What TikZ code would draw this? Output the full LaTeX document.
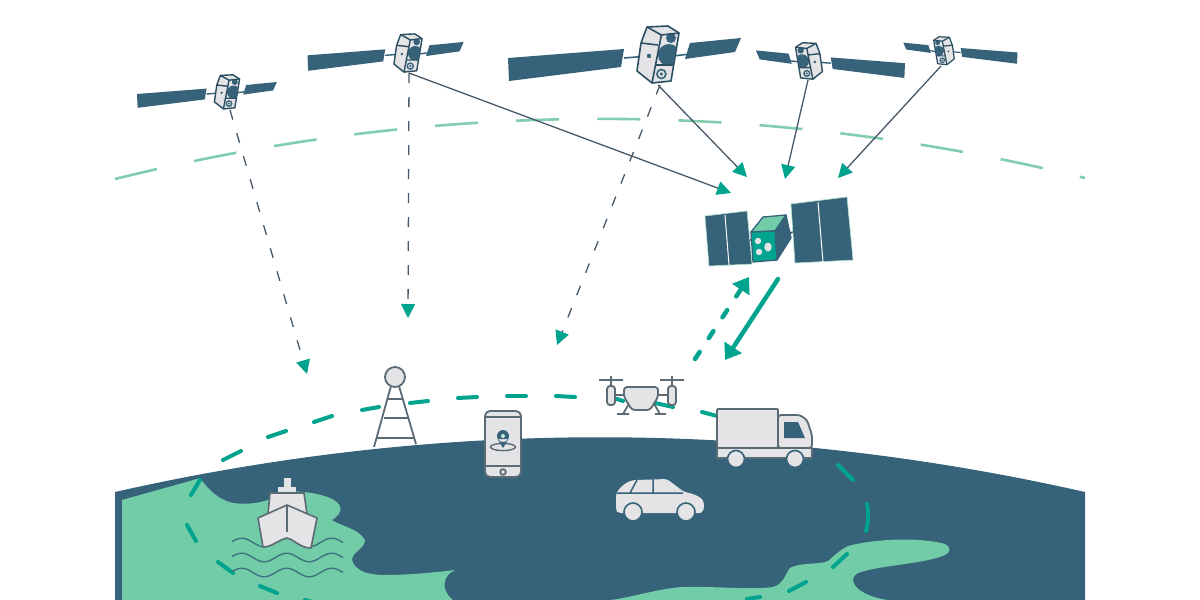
\documentclass[tikz,border=0pt]{standalone}
\usetikzlibrary{arrows.meta}
\definecolor{ocean}{HTML}{36627A}
\definecolor{land}{HTML}{72CCA8}
\definecolor{signal}{HTML}{00A48E}
\definecolor{shell}{HTML}{E4E4E6}
\definecolor{outline}{HTML}{5B6B75}
\definecolor{beam}{HTML}{46596A}
\definecolor{orbitline}{HTML}{82CDB0}
\tikzset{
  x=1pt,y=-1pt,
  beamtip/.style={-{Triangle[length=14pt,width=14pt,color=signal,fill=signal]}},
  beamsolid/.style={draw=beam,line width=1.3pt,beamtip},
  beamdash/.style={beamsolid,dash pattern=on 10pt off 14pt},
  linkline/.style={draw=signal,line width=4.5pt,line cap=round,
    -{Triangle[length=15pt,width=20pt,color=signal,fill=signal]}},
  ringdash/.style={draw=signal,line width=4pt,line cap=round},
  icon/.style={draw=outline,fill=shell,line width=1.8pt,line join=round},
  iconline/.style={draw=outline,line width=1.8pt},
  seaicon/.style={draw=ocean,fill=shell,line width=1.6pt},
  wave/.style={draw=ocean!85!land,line width=1.4pt},
  pics/navsat/.style={code={
    % solar wings and their struts
    \draw[ocean,line width=#1] (-34,5) -- (-9,3) (15,3) -- (32,1);
    \fill[ocean] (-150,5) -- (-34,-4) -- (-37,14) -- (-149,28) -- cycle;
    \fill[ocean] (32,-10) -- (83,-15) -- (77,-1) -- (27,6) -- cycle;
    % spacecraft body
    \filldraw[fill=shell,draw=ocean!80!black,line width=#1,line join=round]
      (-11,-26) -- (10,-27) -- (21,-20) -- (13,28) -- (-6,30) -- (-21,18) -- (-17,-10) -- cycle;
    \begin{scope}
      \clip (3.4,-18) -- (21,-20) -- (15,12) -- (-2.5,12) -- cycle;
      \fill[ocean] (11,2) circle (11);
    \end{scope}
    \fill[ocean] (13,-15) circle (5);
    \fill[ocean] (-9,3) circle (2.2);
    \draw[ocean!80!black,line width=#1,line join=round]
      (-11,-26) -- (3.4,-18) -- (21,-20)
      (3.4,-18) -- (-2.5,12) -- (-6,30)
      (-2.5,12) -- (15,12)
      (-17,-10) -- (0,-8);
    \draw[ocean,line width=#1] (3.4,21) circle (4.5);
    \fill[ocean] (3.4,21) circle (1.8);
  }}
}
\begin{document}
\begin{tikzpicture}
\useasboundingbox (0,0) rectangle (1200,600);
\fill[white] (0,0) rectangle (1200,600);

% dashed orbit of the navigation constellation
\draw[orbitline,line width=2.6pt,dash pattern=on 43pt off 38.2pt]
  (115,179) .. controls (438,99) and (762,99) .. (1085,178);

% planet, ocean and land masses
\begin{scope}
  \clip (115,400) rectangle (1085,600);
  \fill[ocean] (115,492) .. controls (438,419) and (762,419) .. (1085,492)
    -- (1085,600) -- (115,600) -- cycle;
  \fill[land] (122,500) .. controls (150,492) and (180,484) .. (200,478)
    .. controls (207,488) and (218,500) .. (233,503)
    .. controls (250,505) and (268,503) .. (280,493)
    .. controls (295,490) and (315,492) .. (330,498)
    .. controls (342,503) and (345,512) .. (332,520)
    .. controls (340,526) and (358,528) .. (365,540)
    .. controls (365,550) and (348,553) .. (353,563)
    .. controls (358,572) and (370,575) .. (385,575)
    .. controls (410,575) and (438,572) .. (455,570)
    .. controls (443,575) and (440,590) .. (453,600)
    -- (122,600) -- cycle;
  \fill[land] (610,600) .. controls (630,598) and (660,588) .. (683,587)
    .. controls (710,586) and (750,590) .. (773,587)
    .. controls (784,584) and (785,574) .. (790,568)
    .. controls (800,562) and (820,565) .. (828,561)
    .. controls (835,555) and (840,550) .. (848,546)
    .. controls (870,540) and (915,536) .. (945,544)
    .. controls (951,547) and (951,552) .. (945,555)
    .. controls (925,564) and (880,565) .. (858,573)
    .. controls (845,580) and (858,596) .. (888,600)
    -- cycle;
\end{scope}

% dashed ring around the ground users
\foreach \ax/\ay/\bx/\by in {
  223/460/241/451, 268/437/286/431, 314/422/332/416, 362/410/379/407,
  410/403/428/401, 458/398/477/397, 507/396/526/396, 556/396/575/397,
  617/399/623/401, 655/403/673/407, 702/412/717/416, 838/465/853/480,
  833/567/847/554, 789/591/806/582, 747/599/760/597, 200/480/191/495,
  187/525/196/541, 218/562/233/573, 260/586/277/593, 305/600/312/602}
  \draw[ringdash] (\ax,\ay) -- (\bx,\by);
\draw[ringdash] (867,504) .. controls (869,514) and (868,523) .. (866,531);

% navigation satellites
\pic at (227,91) [xscale=.6,yscale=.6] {navsat=1.4pt};
\pic at (408,52) [xscale=.67,yscale=.67] {navsat=1.4pt};
\pic at (658,53) {navsat=1.6pt};
\pic at (809,60) [xscale=-.64,yscale=.64] {navsat=1.4pt};
\pic at (944,50) [xscale=-.49,yscale=.49] {navsat=1.2pt};

% ends of the signal beams
\coordinate (sOne) at (230,110);
\coordinate (gOne) at (307,374);
\coordinate (sTwo) at (409,73);
\coordinate (gTwo) at (408,318);
\coordinate (relayA) at (731,193);
\coordinate (sThree) at (660,85);
\coordinate (gThree) at (557,345);
\coordinate (sThreeB) at (658,85);
\coordinate (relayB) at (747,177);
\coordinate (sFour) at (808,80);
\coordinate (relayC) at (785,179);
\coordinate (sFive) at (941,66);
\coordinate (relayD) at (838,178);

\draw[beamdash] (sOne) -- (gOne);
\draw[beamdash] (sTwo) -- (gTwo);
\draw[beamdash] (sThree) -- (gThree);
\draw[beamsolid] (sTwo) -- (relayA);
\draw[beamsolid] (sThreeB) -- (relayB);
\draw[beamsolid] (sFour) -- (relayC);
\draw[beamsolid] (sFive) -- (relayD);

% relay satellite
\draw[ocean,line width=2pt] (750,240) -- (795,232);
\filldraw[fill=ocean,draw=land!60!white,line width=.6pt] (705,216) -- (747,211) -- (752,264) -- (709,266) -- cycle;
\filldraw[fill=ocean,draw=land!60!white,line width=.6pt] (791,204) -- (847,197) -- (853,260) -- (795,263) -- cycle;
\draw[white,line width=1pt] (725,215) -- (729,265) (818,202) -- (823,262);
\filldraw[fill=land,draw=ocean,line width=1.3pt,line join=round] (751,232) -- (763,217) -- (786,215) -- (775,231) -- cycle;
\filldraw[fill=ocean,draw=ocean,line width=1.3pt,line join=round] (775,231) -- (786,215) -- (791,238) -- (777,260) -- cycle;
\filldraw[fill=signal,draw=ocean,line width=1.3pt,line join=round] (751,232) -- (775,231) -- (777,260) -- (753,262) -- cycle;
\fill[shell] (758,241) circle (3.2) (759,252) circle (3.2) (768,247) ellipse (3.7 and 4.5);

% uplink and downlink with the relay
\coordinate (upFrom) at (695,359);
\coordinate (upTo) at (749,277);
\coordinate (downFrom) at (778,279);
\coordinate (downTo) at (725,360);
\draw[linkline,dash pattern=on 8.5pt off 16.5pt] (upFrom) -- (upTo);
\draw[linkline] (downFrom) -- (downTo);

% ground antenna
\draw[iconline,line join=round] (374,447) -- (391,386) (416,444) -- (399,386)
  (388,399) -- (403,399) (384,418) -- (408,418) (377,438) -- (413,438);
\filldraw[icon] (395,377) circle (10);

% phone with location pin
\filldraw[icon,rounded corners=5pt] (485,411) rectangle (521,477);
\draw[iconline] (485,417) -- (521,417) (485,466) -- (521,466);
\draw[iconline] (503,472) circle (2.8);
\draw[draw=outline,line width=1.4pt] (503,447) ellipse (12.5 and 3.6);
\fill[ocean] (503,436) circle (6) (497.5,439) -- (503,448) -- (508.5,439) -- cycle;
\fill[land!40!white] (503,436) circle (2);

% drone
\draw[iconline] (599,380) -- (623,380) (611,376) -- (611,387)
  (660,380) -- (684,380) (672,376) -- (672,387)
  (615,395) -- (625,395) (657,395) -- (668,395)
  (630,402) -- (623,414) (617,414) -- (629,414)
  (653,402) -- (660,414) (655,414) -- (666,414);
\filldraw[icon,rounded corners=3pt] (607,386) rectangle (615,405);
\filldraw[icon,rounded corners=3pt] (668,386) rectangle (676,405);
\filldraw[icon,rounded corners=3pt] (624,387) -- (658,387) -- (658,397) -- (650,410) -- (632,410) -- (624,397) -- cycle;

% truck
\filldraw[icon,rounded corners=1pt] (717,409) rectangle (778,448);
\filldraw[icon,rounded corners=3pt] (778,415) -- (800,415) -- (807,420) -- (812,435) -- (812,448) -- (778,448) -- cycle;
\filldraw[icon] (717,448) rectangle (812,458);
\fill[ocean] (784,422) -- (798,422) -- (805,438) -- (784,438) -- cycle;
\filldraw[seaicon] (736,459) circle (8.5) (795,459) circle (8.5);

% car
\filldraw[fill=shell,draw=none,rounded corners=3pt]
  (616,494) .. controls (620,487) and (627,481) .. (636,480)
  -- (667,479) -- (684,492) .. controls (695,494) and (704,498) .. (704,507)
  .. controls (703,512) and (700,513) .. (697,513) -- (618,513) -- (616,510) -- cycle;
\draw[ocean,line width=1.5pt] (617,493) -- (683,493) (630,493) -- (637,480) (653,479) -- (653,493);
\filldraw[seaicon] (633,512) circle (9) (686,512) circle (9);

% ship and waves
\draw[wave] plot[domain=232:343,samples=60,smooth] (\x,{542.5-4.3*cos((\x-241.7)*8)});
\draw[wave] plot[domain=232:343,samples=60,smooth] (\x,{557.5-4.3*cos((\x-241.7)*8)});
\draw[wave] plot[domain=232:343,samples=60,smooth] (\x,{572.5-4.3*cos((\x-241.7)*8)});
\fill[shell] (284,478) rectangle (291,487);
\fill[shell] (278,487) rectangle (296,493);
\filldraw[seaicon,draw=outline] (270,493) -- (304,493) -- (307,514) -- (268,514) -- cycle;
\filldraw[seaicon,draw=outline,line join=round] (258,518) -- (287,505) -- (317,518) -- (311,548)
  .. controls (300,548) and (295,540) .. (287,538) .. controls (278,540) and (272,547) .. (263,547) -- cycle;
\draw[draw=outline,line width=1.6pt] (287,505) -- (287,532);
\end{tikzpicture}
\end{document}
